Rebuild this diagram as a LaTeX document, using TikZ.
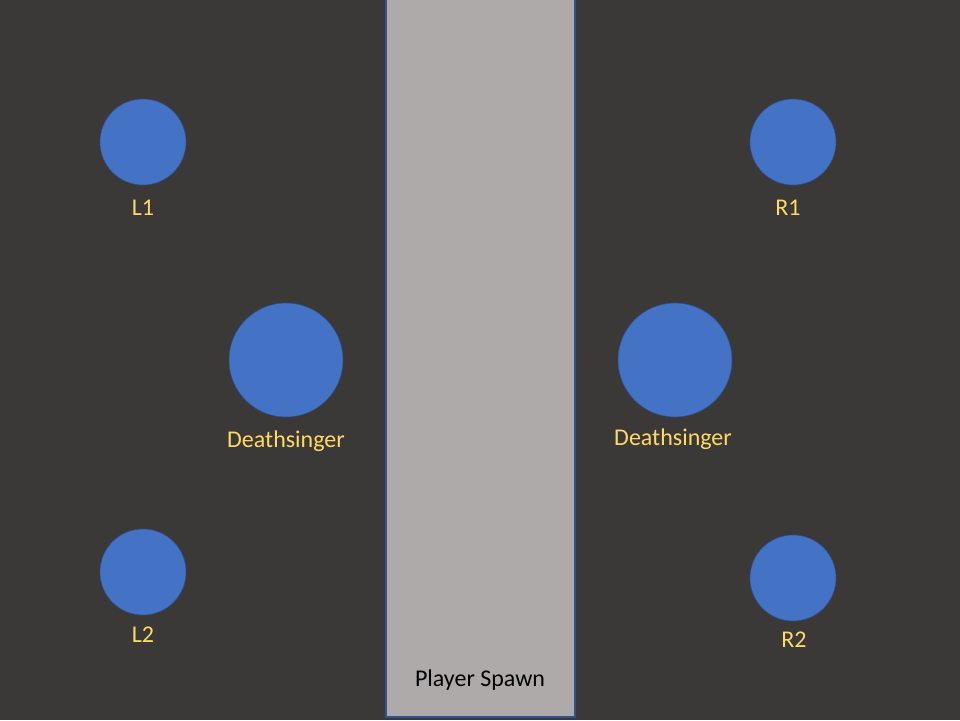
\documentclass[tikz,border=0pt]{standalone}
\usepackage{fontspec}
\setmainfont{Carlito}
\usepackage[HTML]{xcolor}
\usepackage{tikz}
\usetikzlibrary{positioning}

\definecolor{floorgrey}{HTML}{3B3838}
\definecolor{spawngrey}{HTML}{AEAAAA}
\definecolor{edgeblue}{HTML}{2F528F}
\definecolor{addblue}{HTML}{4472C4}
\definecolor{labelgold}{HTML}{FFD966}

\begin{document}
\begin{tikzpicture}[x=1pt,y=-1pt,
  add/.style={circle,fill=addblue,draw=edgeblue,line width=0.6pt,inner sep=0pt,minimum size=86pt},
  boss/.style={add,minimum size=114pt},
  lbl/.style={text=labelgold,font=\fontsize{24}{28}\selectfont,inner sep=0pt}]
% floor and bounding box
\fill[floorgrey] (0,0) rectangle (960,720);
\useasboundingbox (0,0) rectangle (960,720);
% spawn corridor
\draw[fill=spawngrey,draw=edgeblue,line width=1.2pt] (386,-2) rectangle (575,717);
\node[font=\fontsize{24}{28}\selectfont,inner sep=0pt] (spawn) at (480,680) {Player Spawn};
% left side
\node[add] (L1) at (143,142) {};
\node[lbl] (L1t) at (143,208) {L1};
\node[boss] (DL) at (286,360) {};
\node[lbl] (DLt) at (286,441) {Deathsinger};
\node[add] (L2) at (143,572) {};
\node[lbl] (L2t) at (143,635) {L2};
% right side
\node[add] (R1) at (793,142) {};
\node[lbl] (R1t) at (788,208) {R1};
\node[boss] (DR) at (675,360) {};
\node[lbl] (DRt) at (673,439) {Deathsinger};
\node[add] (R2) at (793,578) {};
\node[lbl] (R2t) at (794,640) {R2};
\end{tikzpicture}
\end{document}
